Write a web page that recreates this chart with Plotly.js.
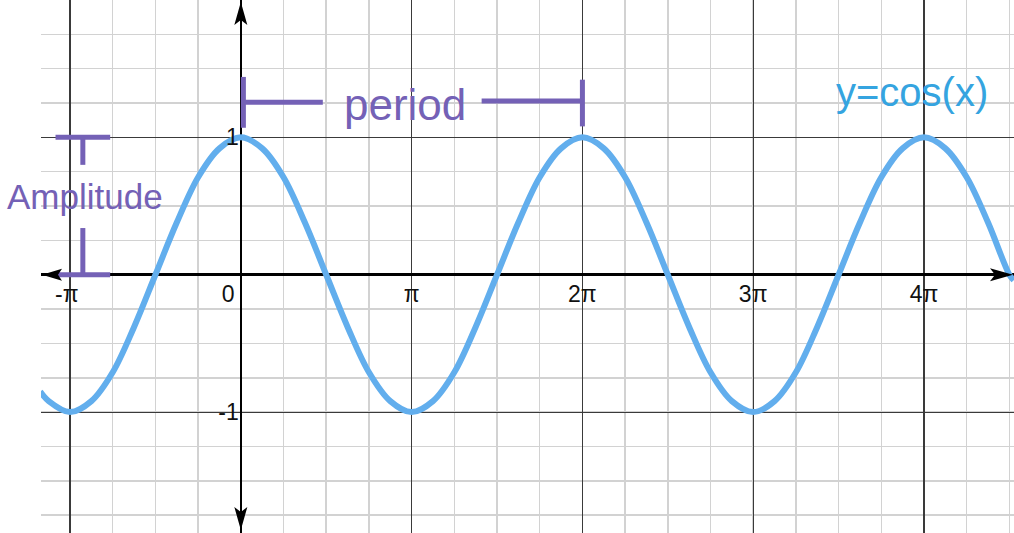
<!DOCTYPE html>
<html>
<head>
<meta charset="utf-8">
<script src="https://cdn.plot.ly/plotly-3.0.1.min.js"></script>
<style>
html,body{margin:0;padding:0;background:#fff;}
#chart{width:1014px;height:533px;}
</style>
</head>
<body>
<div id="chart"></div>
<script>
// ---- data ----
// curve sample positions, in eighths of pi
const curveEighths = [-9.4, -9, -8, -7, -6, -5, -4, -3, -2, -1,
  0, 1, 2, 3, 4, 5, 6, 7, 8, 9, 10, 11, 12, 13, 14, 15,
  16, 17, 18, 19, 20, 21, 22, 23, 24, 25, 26, 27, 28, 29, 30, 31,
  32, 33, 34, 35, 36, 36.2];
// curve heights read at those positions
const curveY = [-0.85, -0.92, -1, -0.92, -0.71, -0.38, 0, 0.38, 0.71, 0.92,
  1, 0.92, 0.71, 0.38, 0, -0.38, -0.71, -0.92, -1, -0.92, -0.71, -0.38, 0, 0.38, 0.71, 0.92,
  1, 0.92, 0.71, 0.38, 0, -0.38, -0.71, -0.92, -1, -0.92, -0.71, -0.38, 0, 0.38, 0.71, 0.92,
  1, 0.92, 0.71, 0.38, 0, -0.04];

// tick labels
const xTickMultiples = [-1, 0, 1, 2, 3, 4];
const xTickText = ['-π\u00a0', '0\u00a0\u00a0\u00a0\u00a0', 'π', '2π', '3π', '4π'];
const yTickVals = [-1, 1];
const yTickText = ['-1', '1'];

// annotated quantities
const periodStart = 0;          // in multiples of pi
const periodEnd = 2;            // in multiples of pi
const amplitude = 1;

// ---- layout / styling ----
const PI = Math.PI;
const xRange = [-1.17 * PI, 4.527 * PI];
const yRange = [-1.88, 2.0];
const purple = '#7461b6';
const curveBlue = '#62aeed';
const labelBlue = '#35a4e0';
const tickFont = {family: 'Liberation Sans, Arial, sans-serif', size: 23, color: '#111'};

const xs = curveEighths.map(k => k * PI / 8);

const trace = {
  x: xs, y: curveY, type: 'scatter', mode: 'lines',
  line: {color: curveBlue, width: 6, shape: 'spline', smoothing: 1},
  hoverinfo: 'skip', showlegend: false, cliponaxis: true
};

const xPos = (0 - yRange[0]) / (yRange[1] - yRange[0]);
const yPos = (0 - xRange[0]) / (xRange[1] - xRange[0]);

const purpleLine = {color: purple, width: 5};
const ampX = -0.925 * PI;   // bracket centre for amplitude
const ampHalf = 0.16 * PI;
const perY = 1.255;

const shapes = [
  // amplitude bracket
  {type: 'line', xref: 'x', yref: 'y', x0: ampX - ampHalf, x1: ampX + ampHalf, y0: amplitude, y1: amplitude, line: purpleLine},
  {type: 'line', xref: 'x', yref: 'y', x0: ampX, x1: ampX, y0: amplitude, y1: 0.8 * amplitude, line: purpleLine},
  {type: 'line', xref: 'x', yref: 'y', x0: ampX, x1: ampX, y0: 0.34 * amplitude, y1: 0, line: purpleLine},
  {type: 'line', xref: 'x', yref: 'y', x0: ampX - ampHalf - 0.01 * PI, x1: ampX + ampHalf, y0: 0, y1: 0, line: purpleLine},
  // period bracket
  {type: 'line', xref: 'x', yref: 'y', x0: periodStart * PI + 0.015 * PI, x1: periodStart * PI + 0.015 * PI, y0: 1.07, y1: 1.44, line: purpleLine},
  {type: 'line', xref: 'x', yref: 'y', x0: periodStart * PI + 0.015 * PI, x1: 0.48 * PI, y0: perY, y1: perY, line: purpleLine},
  {type: 'line', xref: 'x', yref: 'y', x0: 1.41 * PI, x1: periodEnd * PI, y0: perY + 0.01, y1: perY + 0.01, line: purpleLine},
  {type: 'line', xref: 'x', yref: 'y', x0: periodEnd * PI, x1: periodEnd * PI, y0: 1.08, y1: 1.42, line: purpleLine},
  // axis arrowheads
  {type: 'path', xref: 'x', yref: 'y', xsizemode: 'pixel', ysizemode: 'pixel', xanchor: 0, yanchor: yRange[1],
   path: 'M0,-2 L6.5,-25 L0,-20 L-6.5,-25 Z', fillcolor: '#000', line: {width: 0}},
  {type: 'path', xref: 'x', yref: 'y', xsizemode: 'pixel', ysizemode: 'pixel', xanchor: 0, yanchor: yRange[0],
   path: 'M0,3 L6.5,26 L0,21 L-6.5,26 Z', fillcolor: '#000', line: {width: 0}},
  {type: 'path', xref: 'x', yref: 'y', xsizemode: 'pixel', ysizemode: 'pixel', xanchor: xRange[0], yanchor: 0,
   path: 'M1,0 L21,6 L17,0 L21,-6 Z', fillcolor: '#000', line: {width: 0}},
  {type: 'path', xref: 'x', yref: 'y', xsizemode: 'pixel', ysizemode: 'pixel', xanchor: xRange[1], yanchor: 0,
   path: 'M-1,0 L-24,6.5 L-19,0 L-24,-6.5 Z', fillcolor: '#000', line: {width: 0}}
];

const annotations = [
  {x: ampX + 0.01 * PI, y: 0.57, xref: 'x', yref: 'y', text: 'Amplitude', showarrow: false,
   font: {family: 'Liberation Sans, Arial, sans-serif', size: 35, color: purple}},
  {x: 0.96 * PI, y: 1.24, xref: 'x', yref: 'y', text: 'period', showarrow: false,
   font: {family: 'Liberation Sans, Arial, sans-serif', size: 44, color: purple}},
  {x: 3.93 * PI, y: 1.33, xref: 'x', yref: 'y', text: 'y=cos(x)', showarrow: false,
   font: {family: 'Liberation Sans, Arial, sans-serif', size: 40, color: labelBlue}}
];

const layout = {
  width: 1014, height: 533,
  margin: {l: 41, r: 0, t: 0, b: 0, pad: 0},
  paper_bgcolor: '#fff', plot_bgcolor: '#fff',
  showlegend: false,
  font: tickFont,
  xaxis: {
    range: xRange, anchor: 'free', position: xPos,
    tickmode: 'array', tickvals: xTickMultiples.map(m => m * PI), ticktext: xTickText,
    tickfont: tickFont,
    ticks: '', ticklabelstandoff: 3,
    showgrid: true, gridcolor: '#3a3a3a', gridwidth: 1.2,
    minor: {tickmode: 'linear', tick0: 0, dtick: PI / 4, showgrid: true, gridcolor: '#d2d2d2', gridwidth: 1.5, ticks: ''},
    zeroline: true, zerolinecolor: '#000', zerolinewidth: 2.5,
    showline: false, fixedrange: true
  },
  yaxis: {
    range: yRange, anchor: 'free', position: yPos,
    tickmode: 'array', tickvals: yTickVals, ticktext: yTickText,
    tickfont: tickFont,
    ticks: '', ticklabelstandoff: 2,
    showgrid: true, gridcolor: '#3a3a3a', gridwidth: 1.2,
    minor: {tickmode: 'linear', tick0: 0, dtick: 0.25, showgrid: true, gridcolor: '#d2d2d2', gridwidth: 1.5, ticks: ''},
    zeroline: true, zerolinecolor: '#000', zerolinewidth: 2.5,
    showline: false, fixedrange: true
  },
  shapes: shapes,
  annotations: annotations
};

Plotly.newPlot('chart', [trace], layout, {displayModeBar: false, staticPlot: true});
</script>
</body>
</html>
